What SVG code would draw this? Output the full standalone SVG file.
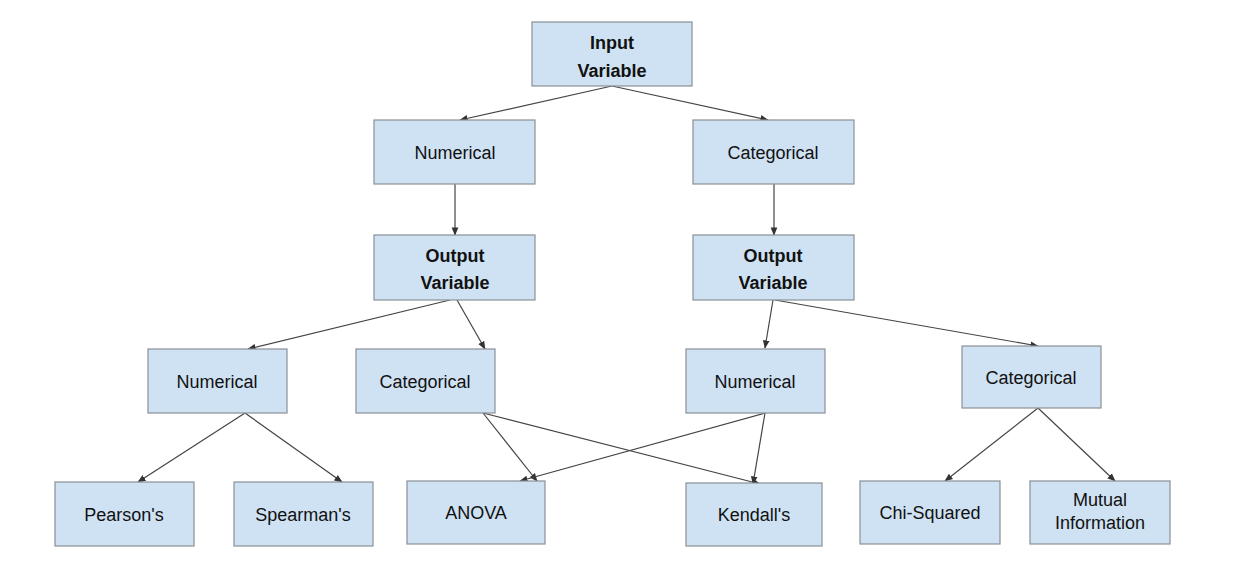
<svg xmlns="http://www.w3.org/2000/svg" width="1245" height="573" viewBox="0 0 1245 573">
<style>
rect{fill:#cfe2f3;stroke:#8a8f96;stroke-width:1.2}
text{font-family:"Liberation Sans",Arial,sans-serif;font-size:18px;fill:#111;text-anchor:middle}
.b{font-weight:bold}
#edges line{stroke:#444;stroke-width:1.2;marker-end:url(#a)}
</style>
<defs><marker id="a" viewBox="0 0 10 10" refX="9" refY="5" markerWidth="7" markerHeight="7" orient="auto"><path d="M0,1L10,5L0,9z" fill="#333"/></marker></defs>
<rect width="1245" height="573" style="fill:#fff;stroke:none"/>
<g id="edges">
<line x1="612" y1="86" x2="460" y2="120"/>
<line x1="612" y1="86" x2="768" y2="120"/>
<line x1="455" y1="184" x2="455" y2="235"/>
<line x1="774" y1="184" x2="774" y2="235"/>
<line x1="450" y1="300" x2="248" y2="349"/>
<line x1="457" y1="300" x2="485" y2="349"/>
<line x1="773" y1="300" x2="765" y2="348"/>
<line x1="775" y1="300" x2="1038" y2="346"/>
<line x1="245" y1="413" x2="138" y2="482"/>
<line x1="245" y1="413" x2="342" y2="482"/>
<line x1="483" y1="413" x2="537" y2="481"/>
<line x1="483" y1="413" x2="760" y2="484"/>
<line x1="765" y1="413" x2="520" y2="481"/>
<line x1="765" y1="413" x2="753" y2="484"/>
<line x1="1038" y1="408" x2="945" y2="481"/>
<line x1="1038" y1="408" x2="1115" y2="481"/>
</g>
<g id="input"><rect x="532" y="22" width="160" height="64"/><text class="b" x="612" y="49">Input</text><text class="b" x="612" y="77">Variable</text></g>
<g id="num1"><rect x="374" y="120" width="161" height="64"/><text x="455" y="159">Numerical</text></g>
<g id="cat1"><rect x="693" y="120" width="161" height="64"/><text x="773" y="159">Categorical</text></g>
<g id="outL"><rect x="374" y="235" width="161" height="65"/><text class="b" x="455" y="262">Output</text><text class="b" x="455" y="289">Variable</text></g>
<g id="outR"><rect x="693" y="235" width="161" height="65"/><text class="b" x="773" y="262">Output</text><text class="b" x="773" y="289">Variable</text></g>
<g id="numL"><rect x="148" y="349" width="139" height="64"/><text x="217" y="388">Numerical</text></g>
<g id="catL"><rect x="356" y="349" width="139" height="64"/><text x="425" y="388">Categorical</text></g>
<g id="numR"><rect x="686" y="349" width="139" height="64"/><text x="755" y="388">Numerical</text></g>
<g id="catR"><rect x="962" y="346" width="139" height="62"/><text x="1031" y="384">Categorical</text></g>
<g id="pearson"><rect x="55" y="482" width="139" height="64"/><text x="124" y="521">Pearson's</text></g>
<g id="spearman"><rect x="234" y="482" width="139" height="64"/><text x="303" y="521">Spearman's</text></g>
<g id="anova"><rect x="407" y="481" width="138" height="63"/><text x="476" y="519">ANOVA</text></g>
<g id="kendall"><rect x="686" y="483" width="136" height="63"/><text x="754" y="521">Kendall's</text></g>
<g id="chi"><rect x="860" y="481" width="140" height="63"/><text x="930" y="519">Chi-Squared</text></g>
<g id="mutual"><rect x="1030" y="481" width="140" height="63"/><text x="1100" y="506">Mutual</text><text x="1100" y="529">Information</text></g>
</svg>
